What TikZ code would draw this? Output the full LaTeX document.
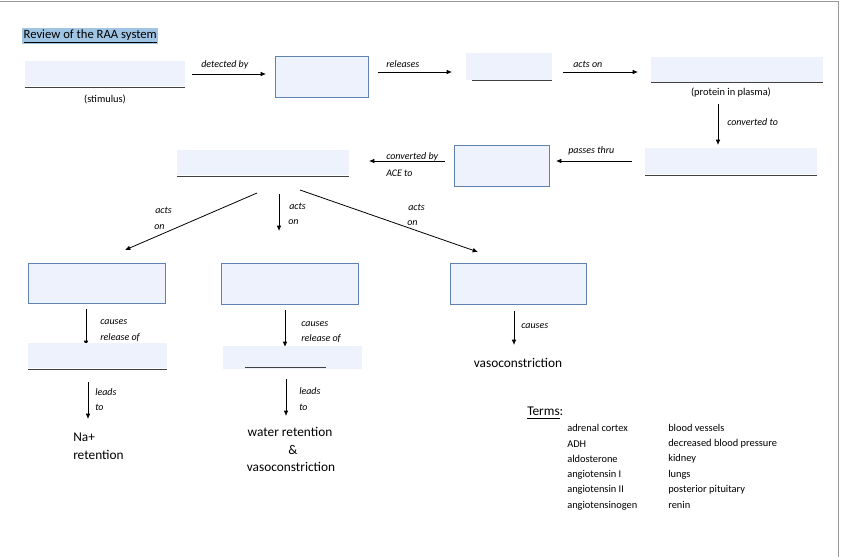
\documentclass[tikz,border=0pt]{standalone}
\usepackage{fontspec}
\setmainfont{Carlito}
\usetikzlibrary{arrows.meta}
\definecolor{blank}{RGB}{238,242,253}
\definecolor{boxline}{RGB}{95,130,175}
\definecolor{titlebg}{RGB}{160,196,228}
\tikzset{
  blank/.style={fill=blank,draw=none},
  framed/.style={fill=blank,draw=boxline,semithick},
  rule/.style={draw=black!75,semithick},
  link/.style={-{Latex[length=4pt,width=3.5pt]},semithick},
  lbl/.style={font=\fontsize{7.5}{8}\selectfont\itshape,anchor=west,inner sep=0pt},
  txt/.style={font=\fontsize{7.8}{9}\selectfont,anchor=west,inner sep=0pt},
  big/.style={font=\fontsize{10}{11}\selectfont,inner sep=0pt}
}
\begin{document}
\begin{tikzpicture}[x=0.75pt,y=-0.75pt]
  \useasboundingbox (0,0) rectangle (843,557);
  \draw[black!40] (0,1) -- (838,1) -- (838,557);
  % title
  \node[fill=titlebg,inner sep=1pt,anchor=west,font=\fontsize{9.5}{10}\selectfont] (title) at (22,36) {\underline{Review of the RAA system}};
  % top row
  \path[blank] (25,61) rectangle (185,86);
  \coordinate (s1) at (25,87); \coordinate (s2) at (185,87);
  \draw[rule] (s1) -- (s2);
  \node[txt,anchor=center] (stim) at (105,99) {(stimulus)};
  \path[framed] (275,56) rectangle (368,97);
  \coordinate (a1) at (192,74); \coordinate (a2) at (266,74);
  \draw[link] (a1) -- (a2);
  \node[lbl] (det) at (201,65) {detected by};
  \path[blank] (466,53) rectangle (552,80);
  \coordinate (u3a) at (472,80); \coordinate (u3b) at (552,80);
  \draw[rule] (u3a) -- (u3b);
  \coordinate (b1) at (378,72); \coordinate (b2) at (452,72);
  \draw[link] (b1) -- (b2);
  \node[lbl] (rel) at (386,64) {releases};
  \path[blank] (651,57) rectangle (823,82);
  \coordinate (u4a) at (651,82); \coordinate (u4b) at (823,82);
  \draw[rule] (u4a) -- (u4b);
  \node[txt,anchor=center] (prot) at (731,93) {(protein in plasma)};
  \coordinate (c1) at (563,72); \coordinate (c2) at (638,72);
  \draw[link] (c1) -- (c2);
  \node[lbl] (acts1) at (573,64) {acts on};
  % right down
  \coordinate (d1) at (718,104); \coordinate (d2) at (718,145);
  \draw[link] (d1) -- (d2);
  \node[lbl] (conv) at (727,122) {converted to};
  \path[blank] (645,148) rectangle (817,174);
  \coordinate (u5a) at (645,175); \coordinate (u5b) at (817,175);
  \draw[rule] (u5a) -- (u5b);
  \coordinate (e1) at (632,161); \coordinate (e2) at (556,161);
  \draw[link] (e1) -- (e2);
  \node[lbl] (pass) at (568,151) {passes thru};
  \path[framed] (454,145) rectangle (549,186);
  \coordinate (f1) at (445,161); \coordinate (f2) at (369,161);
  \draw[link] (f1) -- (f2);
  \node[lbl] (ace1) at (386,157) {converted by};
  \node[lbl] (ace2) at (386,173) {ACE to};
  \path[blank] (177,150) rectangle (349,175);
  \coordinate (u7a) at (177,176); \coordinate (u7b) at (349,176);
  \draw[rule] (u7a) -- (u7b);
  % branches
  \coordinate (g0) at (257,193); \coordinate (g1) at (125,250);
  \coordinate (h0) at (279,194); \coordinate (h1) at (279,231);
  \coordinate (k0) at (300,190); \coordinate (k1) at (478,252);
  \draw[link] (g0) -- (g1);
  \draw[link] (h0) -- (h1);
  \draw[link] (k0) -- (k1);
  \node[lbl] at (155,210) {acts};
  \node[lbl] at (154,227) {on};
  \node[lbl] at (289,206) {acts};
  \node[lbl] at (288,222) {on};
  \node[lbl] at (408,207) {acts};
  \node[lbl] at (407,223) {on};
  \path[framed] (28,263) rectangle (165,303);
  \path[framed] (221,263) rectangle (358,304);
  \path[framed] (450,263) rectangle (586,304);
  % left column
  \coordinate (m1) at (86,309); \coordinate (m2) at (86,346);
  \draw[link] (m1) -- (m2);
  \node[lbl] at (100,322) {causes};
  \node[lbl] at (100,338) {release of};
  \path[blank] (28,343) rectangle (167,368);
  \coordinate (u11a) at (28,369); \coordinate (u11b) at (167,369);
  \draw[rule] (u11a) -- (u11b);
  \coordinate (n1) at (88,382); \coordinate (n2) at (88,419);
  \draw[link] (n1) -- (n2);
  \node[lbl] at (95,392) {leads};
  \node[lbl] at (95,407) {to};
  \node[big,anchor=west] (na) at (73,437) {Na+};
  \node[big,anchor=west] (ret) at (73,455) {retention};
  % middle column
  \coordinate (p1) at (285,310); \coordinate (p2) at (285,347);
  \draw[link] (p1) -- (p2);
  \node[lbl] at (301,324) {causes};
  \node[lbl] at (301,339) {release of};
  \path[blank] (223,346) rectangle (362,369);
  \coordinate (u12a) at (245,367); \coordinate (u12b) at (326,367);
  \draw[rule] (u12a) -- (u12b);
  \coordinate (q1) at (286,379); \coordinate (q2) at (286,416);
  \draw[link] (q1) -- (q2);
  \node[lbl] at (299,391) {leads};
  \node[lbl] at (299,407) {to};
  \node[big] (water) at (290,432) {water retention};
  \node[big] (amp) at (293,450) {\&};
  \node[big] (vaso1) at (291,467) {vasoconstriction};
  % right column
  \coordinate (r1) at (514,311); \coordinate (r2) at (514,345);
  \draw[link] (r1) -- (r2);
  \node[lbl] at (521,326) {causes};
  \node[big] (vaso2) at (518,363) {vasoconstriction};
  % terms
  \node[big,anchor=west] (terms) at (527,413) {\underline{Terms}:};
  \foreach \t [count=\i] in {adrenal cortex,ADH,aldosterone,angiotensin I,angiotensin II,angiotensinogen}
    \node[txt] (tl\i) at (567,{413+15.4*\i}) {\t};
  \foreach \t [count=\i] in {blood vessels,decreased blood pressure,kidney,lungs,posterior pituitary,renin}
    \node[txt] (tr\i) at (668,{413+15.4*\i}) {\t};
\end{tikzpicture}
\end{document}
